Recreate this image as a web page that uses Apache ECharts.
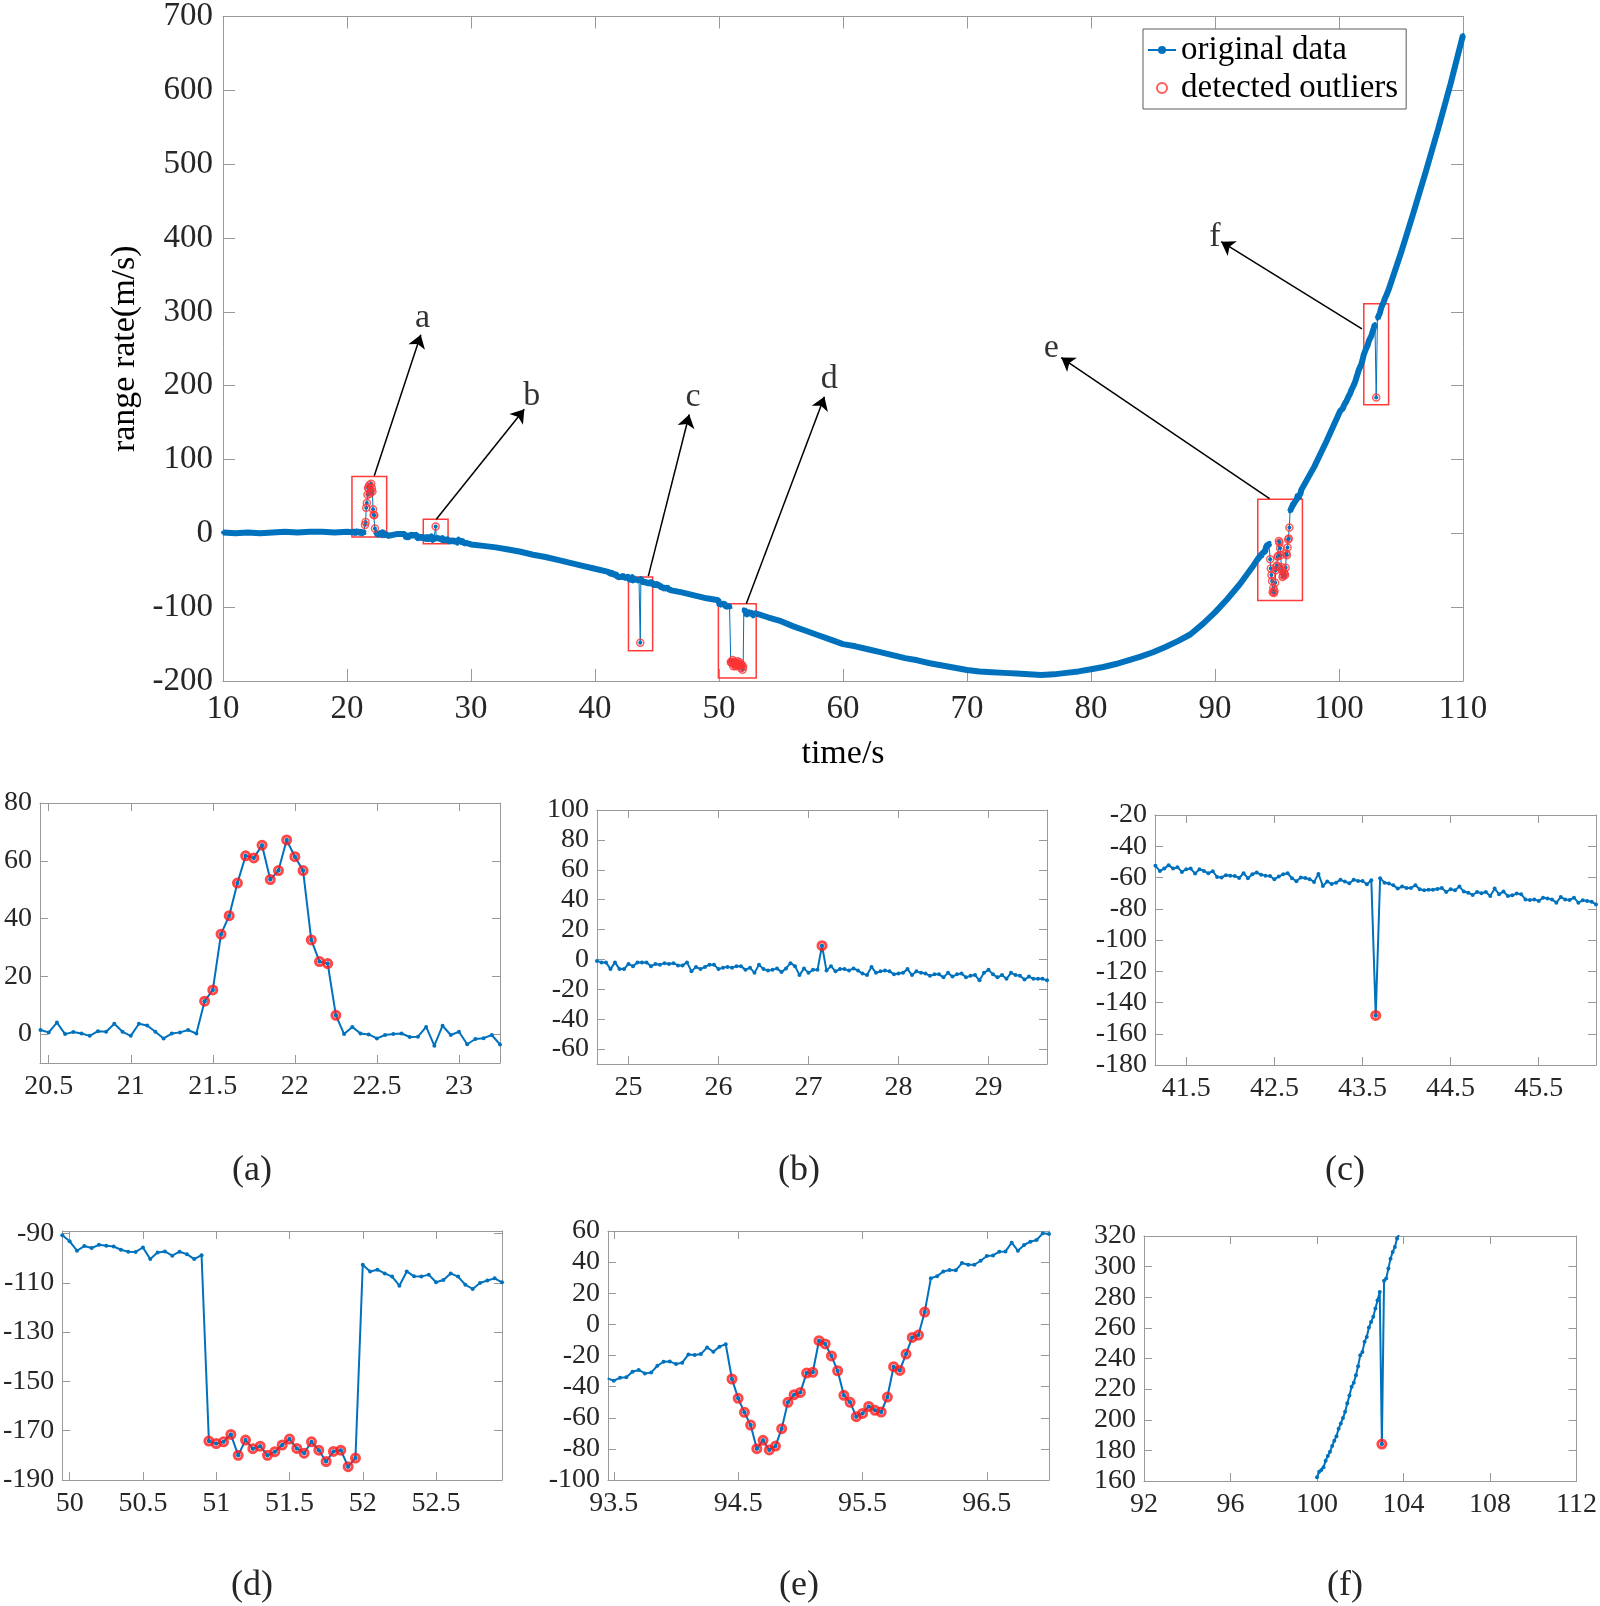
<!DOCTYPE html>
<html>
<head>
<meta charset="utf-8">
<title>range rate outliers</title>
<script src="https://cdn.jsdelivr.net/npm/echarts@6/dist/echarts.min.js"></script>
<style>
html, body { margin: 0; padding: 0; background: #fff; }
#chart { width: 1600px; height: 1606px; }
</style>
</head>
<body>
<div id="chart"></div>
<script>
// ---- data ----
// coarse samples of the main curve (1 s), outside the zoomed windows
const baseTime = [10, 11, 12, 13, 14, 15, 16, 17, 18, 19, 20, 24,
  30, 31, 32, 33, 34, 35, 36, 37, 38, 39, 40, 47, 48, 49,
  54, 55, 56, 57, 58, 59, 60, 61, 62, 63, 64, 65, 66, 67, 68, 69, 70,
  71, 72, 73, 74, 75, 76, 77, 78, 79, 80, 81, 82, 83, 84, 85, 86, 87, 88, 89, 90,
  91, 92, 93, 98, 99, 104, 105, 106, 107, 108, 109, 110]
const baseRate = [1, 0, 1, 0, 1, 2, 1, 2, 2, 1, 2, -1,
  -15, -17, -19, -22, -25, -29, -32, -36, -40, -44, -48, -80, -84, -88,
  -114, -119, -126, -132, -138, -144, -150, -153, -157, -161, -165, -169, -172, -176, -179, -182, -185,
  -187, -188, -189, -190, -191, -192, -191, -189, -187, -184, -181, -177, -172, -167, -161, -154, -146, -137, -123, -107,
  -89, -69, -46, 90, 125, 330, 380, 434, 490, 548, 609, 675]

// zoomed windows (a)-(f): first sample time, sample step, values
const segStart = [20.45, 24.65, 41.15, 49.95, 93.45, 100.0]
const segStep = [0.05, 0.05, 0.05, 0.05, 0.05, 0.1]
const rateA = [1.4, 0.6, 4, 0, 0.7, 0.2, -0.6, 1, 0.8, 3.6, 0.8, -0.6, 3.6, 3, 0.8, -1.5, 0.2, 0.6, 1.4, 0.2,
  11.4, 15.3, 34.6, 41, 52.3, 61.7, 61, 65.4, 53.5, 56.6, 67.2, 61.4, 56.6, 32.6, 25.1, 24.4, 6.5,
  0, 2.5, 0.2, -0.1, -1.5, -0.3, 0, 0.2, -1, -0.9, 2.5, -4, 2.9, -0.3, 0.8, -3.5, -1.7, -1.4, -0.3, -3.6]
const rateB = [-1, -2, -2, -6.5, -2, -6.5, -6.5,
  -3, -4.5, -2, -2, -2, -4.5, -3, -3.5, -2.5, -3, -2.5, -4, -4, -2, -8, -5, -6.5, -5, -3.5, -3.5,
  -6.5, -5.5, -5, -5.5, -4.5, -4.5, -7, -5.5, -9, -3.5, -6.5, -7.5, -7, -6, -8.5, -6, -2.5, -4.5, -10.5, -6,
  -9, -7, -7, 9.2, -7.5, -4.5, -8, -6.5, -6.5, -7.5, -6, -7.5, -9.5, -10.5, -5, -9, -8, -7.5, -8, -10,
  -9.5, -9, -6.5, -10.5, -8, -9, -9.5, -11, -10, -10, -12, -9, -11.5, -10, -9.5, -12, -11, -10.5, -14, -9,
  -7, -10, -12, -10.5, -13, -9, -10.5, -11, -13.5, -11.5, -13, -13, -13, -14]
const rateC = [-52.5, -55.8, -54.3, -52.1, -54.3, -53.4, -56.4,
  -54.7, -54.3, -57.5, -54.7, -55.8, -57.3, -56, -59.6, -60, -58.5, -58.8, -59, -60.3, -57.3, -60.5, -57.9, -56.8, -58.3, -58.8, -59,
  -61.1, -59.4, -57.9, -57.3, -60.5, -62.4, -60, -60.3, -61.1, -62.8, -57.7, -65.4, -62.6, -64.1, -63.3, -61.5, -62.6, -63.7, -61.5, -62.2,
  -62.2, -64.3, -61.8, -148.3, -60.5, -63.3, -63.9, -65, -67.1, -65.8, -66.7, -66.7, -65, -67.5, -68.2, -67.8, -67.8, -67.3, -66.7, -69.3,
  -67.5, -68.2, -65.8, -69, -69.7, -71.2, -69.3, -70.1, -69.3, -71.8, -67.1, -70.7, -69, -71.8, -71.4, -70.3, -70.7, -74, -74.4, -74,
  -75, -72.9, -73.5, -74, -76.1, -72.5, -74, -74.4, -72.9, -76.1, -74.6, -75, -75.5, -77.2]
const rateD = [-90.7, -93.2, -97, -95.1, -95.9, -94.6, -95, -95.3, -96.6, -97.4, -97.5, -95.7, -100.4, -97.7, -97.3, -99, -97.4, -98.4, -100.4, -98.8,
  -174.2, -175.2, -174.5, -171.5, -180, -173.8, -177.3, -176.3, -180, -178.5, -175.8, -173.4, -177.2, -179.1, -174.5, -177.9, -182.5, -178.4, -177.9, -184.6, -181.1,
  -102.7, -105.4, -104.7, -106.2, -107.5, -111.2, -105.4, -107.4, -107.5, -106.7, -109.8, -108.9, -106.2, -107.5, -110.8, -112.5, -110.1, -109.1, -108.2, -109.8]
const rateE = [-34.7, -36.2, -34.3, -34, -30.4, -29.3, -31.5, -31, -26.6, -24, -23.8, -25.5, -24.6, -19.3, -19.7, -19.1, -14.8, -17.6, -14.3, -12.8,
  -35.1, -47.5, -56.5, -64.7, -79.9, -74.5, -80.7, -78.2, -67, -50.1, -45.2, -43.7, -31.3, -30.8, -10.5, -12.6,
  -20.3, -29.8, -45.6, -50.1, -59.3, -57.2, -52.7, -55.2, -56.3, -46.7, -27.2, -29.6, -19.1, -8.4, -6.9, 7.9,
  29.6, 31, 34, 34.9, 34.7, 39.4, 38.3, 38.3, 40.9, 43.9, 44.3, 46.7, 46.9, 52.5, 47.3, 51, 53.1, 54.2, 58.5, 58]
const rateF = [162.4, 166.1, 167.2, 168.9, 173.3, 176.3, 179.1, 182.8, 186.3, 189.3,
  194.1, 197.6, 201.1, 205.2, 210.7, 215.9, 221.5, 224.1, 229.1, 235,
  242.2, 244.3, 250.9, 254.1, 260.2, 263.9, 267.2, 272.6, 278, 283.5,
  184.1, 290.7, 292.2, 298.7, 305.2, 309.6, 312.8, 318.3, 321.5]
const segRates = [rateA, rateB, rateC, rateD, rateE, rateF]

// time spans flagged as outliers
const outlierSpans = [[21.45, 22.25], [27.15, 27.15], [43.65, 43.65], [50.95, 51.95], [94.45, 96.0], [103.0, 103.0]]

// tick labels
const mainXTicks = [10, 20, 30, 40, 50, 60, 70, 80, 90, 100, 110]
const mainYTicks = [-200, -100, 0, 100, 200, 300, 400, 500, 600, 700]
const subXTicks = [
  [20.5, 21, 21.5, 22, 22.5, 23],
  [25, 26, 27, 28, 29],
  [41.5, 42.5, 43.5, 44.5, 45.5],
  [50, 50.5, 51, 51.5, 52, 52.5],
  [93.5, 94.5, 95.5, 96.5],
  [92, 96, 100, 104, 108, 112],
]
const subYTicks = [
  [0, 20, 40, 60, 80],
  [-60, -40, -20, 0, 20, 40, 60, 80, 100],
  [-180, -160, -140, -120, -100, -80, -60, -40, -20],
  [-190, -170, -150, -130, -110, -90],
  [-100, -80, -60, -40, -20, 0, 20, 40, 60],
  [160, 180, 200, 220, 240, 260, 280, 300, 320],
]
const captions = ["(a)", "(b)", "(c)", "(d)", "(e)", "(f)"]

// annotations on the main plot, in data units
const boxes = [[20.4, -5, 23.2, 77], [26.15, -14, 28.15, 19], [42.7, -159, 44.65, -59],
  [49.95, -196, 53.0, -95.5], [93.45, -91, 97.05, 46], [102.0, 174, 104.0, 311]]
const arrows = [[22.2, 78, 25.95, 269], [27.2, 19, 34.3, 168], [44.3, -58, 47.6, 161],
  [52.2, -95.5, 58.5, 185], [94.4, 47, 77.6, 238], [101.85, 277, 90.5, 395]]
const letters = [[26.1, 292, "a"], [34.9, 186, "b"], [47.9, 185, "c"], [58.9, 209, "d"], [76.8, 251, "e"], [90.0, 401, "f"]]

// ---- layout ----
const FONT = '"Liberation Serif", "Times New Roman", serif'
const BLUE = "#0072BD"
const FRAME = "#999999"
const grids = [
  { left: 223, top: 11, width: 1240, height: 670 },
  { left: 40, top: 803, width: 460, height: 260 },
  { left: 597, top: 810, width: 450, height: 254 },
  { left: 1155, top: 815, width: 441, height: 250 },
  { left: 60, top: 1231, width: 442, height: 249 },
  { left: 608, top: 1231, width: 441, height: 249 },
  { left: 1144, top: 1236, width: 434, height: 245 },
]
const xRanges = [[10, 110], [20.447, 23.25], [24.65, 29.65], [41.145, 46.15], [49.95, 52.95], [93.453, 97.0], [92, 112]]
const yRanges = [[-200, 700], [-10, 80], [-70, 100], [-180, -20], [-190, -89], [-100, 60], [160, 320]]
const captionPos = [[252, 1171], [799, 1171], [1345, 1171], [252, 1586], [799, 1586], [1345, 1586]]

const isOutlier = (t) => outlierSpans.some((s) => t >= s[0] - 1e-6 && t <= s[1] + 1e-6)
const segPoints = (i) => segRates[i].map((v, k) => [+(segStart[i] + k * segStep[i]).toFixed(2), v])

const mainPoints = baseTime.map((t, k) => [t, baseRate[k]])
segRates.forEach((_, i) => mainPoints.push(...segPoints(i)))
mainPoints.sort((p, q) => p[0] - q[0])
const bandPoints = mainPoints.map((p) => [p[0], isOutlier(p[0]) ? null : p[1]])
const mainOutliers = mainPoints.filter((p) => isOutlier(p[0]))

const xAxes = []
const yAxes = []
const boxAxes = (g, xt, yt, fs, tl, lm) => {
  const lineStyle = { color: FRAME, width: 1 }
  const mk = (pos, ticks, labels, range, isX) => ({
    type: "value",
    gridIndex: g,
    position: pos,
    min: range[0],
    max: range[1],
    axisLine: { show: true, onZero: false, lineStyle },
    axisTick: { show: true, inside: true, length: tl, customValues: ticks, lineStyle },
    axisLabel: {
      show: labels,
      customValues: ticks,
      margin: isX ? lm[0] : lm[1],
      color: "#262626",
      fontFamily: FONT,
      fontSize: fs,
    },
    splitLine: { show: false },
  })
  xAxes.push(mk("bottom", xt, true, xRanges[g], true), mk("top", xt, false, xRanges[g], true))
  yAxes.push(mk("left", yt, true, yRanges[g], false), mk("right", yt, false, yRanges[g], false))
}
boxAxes(0, mainXTicks, mainYTicks, 33, 12, [12, 10])
Object.assign(xAxes[0], {
  name: "time/s", nameLocation: "middle", nameGap: 56,
  nameTextStyle: { fontFamily: FONT, fontSize: 34, color: "#000" },
})
Object.assign(yAxes[0], {
  name: "range rate(m/s)", nameLocation: "middle", nameGap: 76, nameRotate: 90,
  nameTextStyle: { fontFamily: FONT, fontSize: 34, color: "#000" },
})
for (let i = 0; i < 6; i++) boxAxes(i + 1, subXTicks[i], subYTicks[i], 28, 8, [10, 8])

const series = [
  {
    name: "band", type: "line", xAxisIndex: 0, yAxisIndex: 0,
    data: bandPoints, showSymbol: false, connectNulls: false, silent: true,
    lineStyle: { color: BLUE, width: 6 }, z: 2,
  },
  {
    name: "original data", type: "line", xAxisIndex: 0, yAxisIndex: 0,
    data: mainPoints, symbol: "circle", symbolSize: 4, showAllSymbol: true,
    itemStyle: { color: BLUE }, lineStyle: { color: BLUE, width: 1 }, z: 3,
    markArea: {
      silent: true,
      itemStyle: { color: "rgba(0,0,0,0)", borderColor: "#ff3b3b", borderWidth: 1.5 },
      data: boxes.map((b) => [{ xAxis: b[0], yAxis: b[1] }, { xAxis: b[2], yAxis: b[3] }]),
    },
    markLine: {
      silent: true,
      symbol: ["none", "arrow"],
      symbolSize: 13,
      label: { show: false },
      lineStyle: { color: "#000", width: 1.5, type: "solid" },
      data: arrows.map((a) => [{ coord: [a[0], a[1]] }, { coord: [a[2], a[3]] }]),
    },
  },
  {
    name: "detected outliers", type: "scatter", xAxisIndex: 0, yAxisIndex: 0,
    data: mainOutliers, symbol: "circle", symbolSize: 7,
    itemStyle: { color: "rgba(0,0,0,0)", borderColor: "#ff3333", borderWidth: 1.5 }, z: 4,
  },
  {
    name: "letters", type: "scatter", xAxisIndex: 0, yAxisIndex: 0,
    data: letters, symbolSize: 1, silent: true,
    itemStyle: { color: "rgba(0,0,0,0)" },
    label: {
      show: true, position: "inside", formatter: (p) => p.value[2],
      fontFamily: FONT, fontSize: 34, color: "#000",
    },
  },
]
for (let i = 0; i < 6; i++) {
  const pts = segPoints(i)
  series.push(
    {
      name: "sub" + i, type: "line", xAxisIndex: 2 * (i + 1), yAxisIndex: 2 * (i + 1),
      data: pts, symbol: "circle", symbolSize: 4, showAllSymbol: true,
      itemStyle: { color: BLUE }, lineStyle: { color: BLUE, width: 2 }, z: 2,
    },
    {
      name: "subout" + i, type: "scatter", xAxisIndex: 2 * (i + 1), yAxisIndex: 2 * (i + 1),
      data: pts.filter((p) => isOutlier(p[0])), symbol: "circle", symbolSize: 8,
      itemStyle: { color: "rgba(0,0,0,0)", borderColor: "#ff1a1a", borderWidth: 3 }, z: 3,
    },
    {
      name: "subdot" + i, type: "scatter", xAxisIndex: 2 * (i + 1), yAxisIndex: 2 * (i + 1),
      data: pts.filter((p) => isOutlier(p[0])), symbol: "circle", symbolSize: 4, silent: true,
      itemStyle: { color: BLUE }, z: 4,
    }
  )
}

const chart = echarts.init(document.getElementById("chart"))
chart.setOption({
  animation: false,
  backgroundColor: "#fff",
  grid: grids,
  xAxis: xAxes,
  yAxis: yAxes,
  legend: {
    data: ["original data", "detected outliers"],
    orient: "vertical",
    left: 1143,
    top: 29,
    padding: [2, 8, 2, 4],
    itemGap: 0,
    itemWidth: 28,
    itemHeight: 10,
    backgroundColor: "#fff",
    borderColor: "#5a5a5a",
    borderWidth: 1,
    textStyle: { fontFamily: FONT, fontSize: 33, color: "#000", lineHeight: 38 },
  },
  graphic: captions.map((c, i) => ({
    type: "text", x: captionPos[i][0], y: captionPos[i][1],
    style: { text: c, fontFamily: FONT, fontSize: 36, fill: "#262626", align: "center", verticalAlign: "middle" },
  })),
  series,
})
</script>
</body>
</html>
